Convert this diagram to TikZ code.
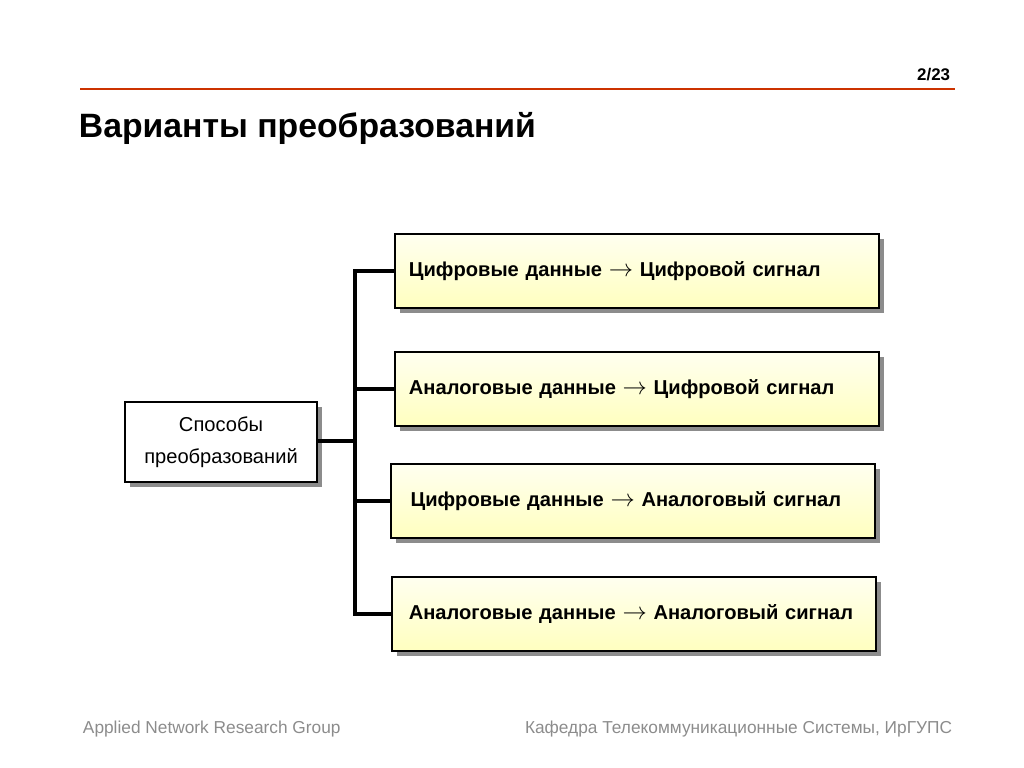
\documentclass[tikz,border=0pt]{standalone}
\usepackage{fontspec}
\setmainfont{Liberation Sans}
\usetikzlibrary{positioning, calc, shadows}
\newcommand{\toarrow}{{\fontsize{17}{17}\selectfont$\rightarrow$}}

\begin{document}
\begin{tikzpicture}[
    x=0.025cm, y=-0.025cm,
    box/.style={draw, line width=1.2pt, minimum height=1.85cm, minimum width=12.1cm,
                inner sep=0pt, text width=11.4cm, align=left, font=\bfseries\fontsize{14.3}{17}\selectfont,
                top color=yellow!6, bottom color=yellow!25,
                drop shadow={shadow xshift=1.2mm, shadow yshift=-1.2mm, fill=black!45, opacity=1}},
    root/.style={draw, line width=1.2pt, fill=white, minimum width=4.8cm, minimum height=2cm,
                 align=center, font=\fontsize{14.3}{23}\selectfont,
                 drop shadow={shadow xshift=1.2mm, shadow yshift=-1.2mm, fill=black!45, opacity=1}},
    bus/.style={line width=2.6pt},
    foot/.style={text=black!45, font=\fontsize{12.3}{14}\selectfont}
]
    \useasboundingbox (0,0) rectangle (1024,768);

    % --- Header ---
    \coordinate (ruleL) at (80,89);
    \coordinate (ruleR) at (955,89);
    \draw[line width=2pt, color={rgb,255:red,204;green,51;blue,0}] (ruleL) -- (ruleR);
    \node[anchor=east, font=\bfseries\fontsize{12}{14}\selectfont] (page) at (955,75) {2/23};
    \node[anchor=west, font=\bfseries\fontsize{24}{28}\selectfont] (title) at (74,128) {Варианты преобразований};

    % --- Boxes ---
    \node[root] (ways) at (221,442) {Способы\\преобразований};
    \node[box] (dd) at (637,271) {Цифровые данные \toarrow{} Цифровой сигнал};
    \node[box] (ad) at (637,389) {Аналоговые данные \toarrow{} Цифровой сигнал};
    \node[box] (da) at (633,501) {\hspace*{4pt}Цифровые данные \toarrow{} Аналоговый сигнал};
    \node[box] (aa) at (634,614) {\hspace*{2pt}Аналоговые данные \toarrow{} Аналоговый сигнал};

    % --- Connectors ---
    \coordinate (busTop) at (355,271);
    \coordinate (busBot) at (355,614);
    \coordinate (busMid) at (355,441);
    \draw[bus] (ways.east |- busMid) -- (busMid);
    \draw[bus] (dd.west) -- (busTop) -- (busBot) -- (aa.west);
    \draw[bus] (busTop |- ad.west) -- (ad.west);
    \draw[bus] (busTop |- da.west) -- (da.west);

    % --- Footer ---
    \node[foot, anchor=west] (group) at (78,729) {Applied Network Research Group};
    \node[foot, anchor=east] (dept) at (957,729) {Кафедра Телекоммуникационные Системы, ИрГУПС};
\end{tikzpicture}
\end{document}
